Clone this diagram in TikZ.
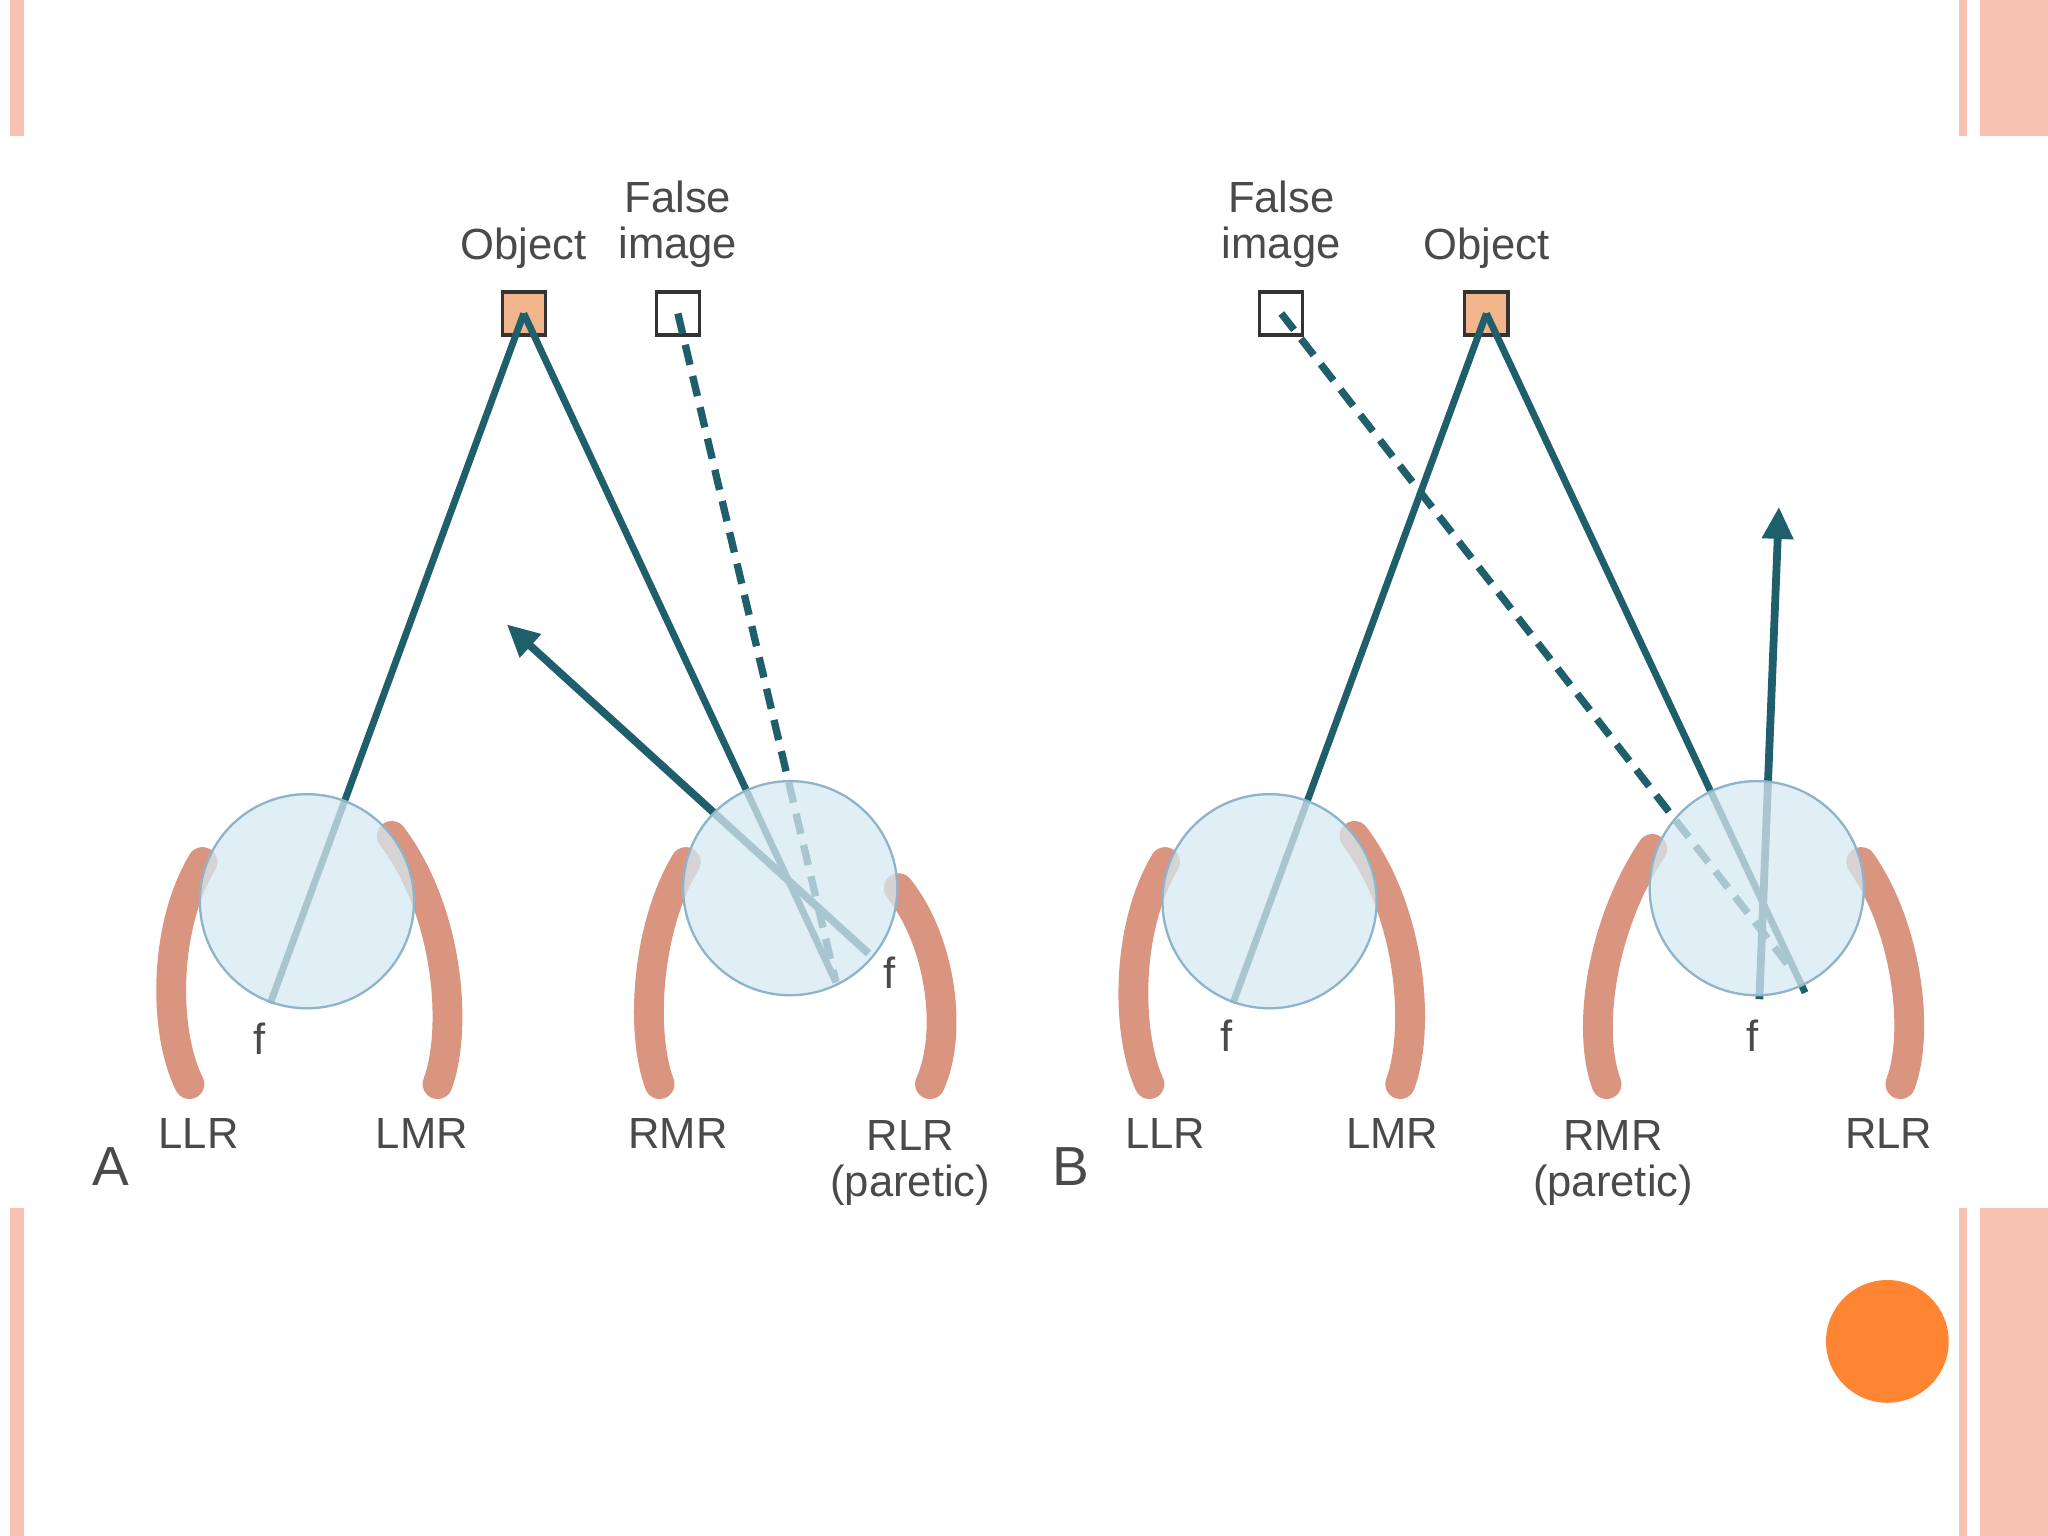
\documentclass[tikz,border=0pt]{standalone}
\usepackage{fontspec}
\setmainfont{Liberation Sans}
\usetikzlibrary{arrows.meta}
\definecolor{ray}{HTML}{1F5F6B}
\definecolor{eyef}{HTML}{D6E8F2}
\definecolor{eyed}{HTML}{8FB3C8}
\definecolor{musc}{HTML}{D99580}
\definecolor{bar}{HTML}{F8C2B0}
\definecolor{orng}{HTML}{FF8533}
\definecolor{objf}{HTML}{F2B48A}
\definecolor{txt}{HTML}{4A4A4A}
\tikzset{
 rayl/.style={draw=ray,line width=3pt},
 dashl/.style={draw=ray,line width=3.2pt,dash pattern=on 9pt off 5pt},
 arr/.style={draw=ray,line width=3.4pt,-{Triangle[length=14pt,width=13pt]}},
 eye/.style={draw=eyed,fill=eyef,fill opacity=0.75,line width=1pt,circle,minimum size=3.28cm,inner sep=0},
 musc/.style={draw=musc,line width=13pt,line cap=round},
 lab/.style={font=\fontsize{19}{20}\selectfont,text=txt,align=center},
 big/.style={font=\fontsize{24}{24}\selectfont,text=txt},
 obj/.style={draw=black!80,line width=1.4pt,minimum size=0.66cm,inner sep=0},
}
\begin{document}
\begin{tikzpicture}[x=0.02cm,y=-0.02cm]
\useasboundingbox (0,0) rectangle (1568,1176);
% side bars
\fill[bar] (8,0) rectangle (18,104); \fill[bar] (8,925) rectangle (18,1176);
\fill[bar] (1500,0) rectangle (1506,104); \fill[bar] (1516,0) rectangle (1568,104);
\fill[bar] (1500,925) rectangle (1506,1176); \fill[bar] (1516,925) rectangle (1568,1176);
\node[circle,fill=orng,minimum size=1.88cm] (dot) at (1445,1027) {};
% muscles A
\draw[musc] (155,660) .. controls (125,710) and (125,790) .. (145,830);
\draw[musc] (300,640) .. controls (345,700) and (350,790) .. (335,830);
\draw[musc] (525,660) .. controls (495,710) and (490,790) .. (505,830);
\draw[musc] (688,680) .. controls (720,720) and (730,790) .. (712,830);
% muscles B
\draw[musc] (892,660) .. controls (862,710) and (862,790) .. (880,830);
\draw[musc] (1037,640) .. controls (1082,700) and (1087,790) .. (1072,830);
\draw[musc] (1265,650) .. controls (1225,710) and (1215,790) .. (1230,830);
\draw[musc] (1425,660) .. controls (1460,710) and (1470,790) .. (1455,830);
% squares
\node[obj,fill=objf] (oA) at (401,240) {};
\node[obj,fill=white] (fA) at (519,240) {};
\node[obj,fill=white] (fB) at (981,240) {};
\node[obj,fill=objf] (oB) at (1138,240) {};
\coordinate (fovAL) at (207,768); \coordinate (fovAR) at (640,752);
\coordinate (fovBL) at (944,768); \coordinate (fovBR) at (1382,760);
\coordinate (tipA) at (665,730); \coordinate (endA) at (388,478);
\coordinate (tipB) at (1347,765); \coordinate (endB) at (1362,388);
\coordinate (dB) at (1370,740);
% rays
\draw[rayl] (oA.center) -- (fovAL);
\draw[rayl] (oA.center) -- (fovAR);
\draw[dashl] (fA.center) -- (fovAR);
\draw[arr] (tipA) -- (endA);
\draw[rayl] (oB.center) -- (fovBL);
\draw[rayl] (oB.center) -- (fovBR);
\draw[dashl] (fB.center) -- (dB);
\draw[arr] (tipB) -- (endB);
% eyes
\node[eye] (eAL) at (235,690) {};
\node[eye] (eAR) at (605,680) {};
\node[eye] (eBL) at (972,690) {};
\node[eye] (eBR) at (1345,680) {};
% labels
\node[lab] at (401,190) {Object};
\node[lab] at (519,172) {False\\image};
\node[lab] at (981,172) {False\\image};
\node[lab] at (1138,190) {Object};
\node[lab] at (199,795) {f}; \node[lab] at (681,745) {f};
\node[lab] at (939,793) {f}; \node[lab] at (1342,793) {f};
\node[lab] at (152,868) {LLR}; \node[lab] at (323,868) {LMR};
\node[lab] at (519,868) {RMR}; \node[lab,anchor=north] at (697,852) {RLR\\(paretic)};
\node[lab] at (892,868) {LLR}; \node[lab] at (1066,868) {LMR};
\node[lab,anchor=north] at (1235,852) {RMR\\(paretic)}; \node[lab] at (1446,868) {RLR};
\node[big] at (85,893) {A}; \node[big] at (820,893) {B};
\end{tikzpicture}
\end{document}
